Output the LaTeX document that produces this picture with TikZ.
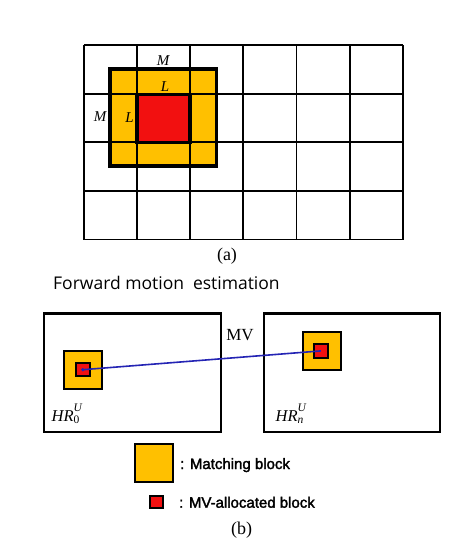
\documentclass[tikz,border=0pt]{standalone}
\usepackage{fontspec}
\setmainfont{Liberation Serif}
\newfontfamily\sansf{Open Sans}
\newfontfamily\legf[FakeBold=2]{Liberation Sans}
\definecolor{mblock}{HTML}{FFC000}
\definecolor{mvred}{HTML}{F21010}
\definecolor{mvblue}{HTML}{2424B4}
\newcommand{\hrlab}[1]{\textit{HR}\makebox[0pt][l]{\raisebox{0.55em}{\fontsize{11.5}{12}\selectfont\textit{U}}}\raisebox{-0.15em}{\fontsize{11.5}{12}\selectfont #1}}
\tikzset{
  gridline/.style={line width=1.8pt, black},
  bigblock/.style={draw=black, line width=3.2pt},
  frame/.style={draw=black, line width=2.2pt},
  mblk/.style={draw=black, fill=mblock, line width=2pt, inner sep=0pt, minimum width=38pt, minimum height=38pt},
  mvblk/.style={draw=black, fill=mvred, line width=2pt, inner sep=0pt, minimum width=13.5pt, minimum height=13.5pt},
  lab/.style={font=\fontsize{15}{16}\selectfont\itshape, inner sep=0pt},
  legtext/.style={font=\legf\fontsize{15}{16}\selectfont, anchor=base west, inner sep=0pt},
  hrtext/.style={font=\fontsize{16.5}{18}\selectfont, anchor=base west, inner sep=0pt}
}
\begin{document}
\begin{tikzpicture}[x=1pt,y=-1pt]
\useasboundingbox (0,0) rectangle (458,550);
\fill[white] (0,0) rectangle (458,550);
% (a)
\fill[mblock] (110,69) rectangle (216.7,166);
\foreach \i in {0,...,6} \draw[gridline] (84+53.12*\i,45) -- (84+53.12*\i,239.5);
\foreach \j in {0,...,4} \draw[gridline] (84,45+48.62*\j) -- (402.7,45+48.62*\j);
\draw[bigblock] (110,69) rectangle (216.7,166);
\filldraw[bigblock, fill=mvred] (136.9,94.3) rectangle (190,142.3);
\node[lab] (mtop) at (163,60.3) {M};
\node[lab] (ltop) at (165,86.2) {L};
\node[lab] (mleft) at (100,116.7) {M};
\node[lab] (lleft) at (129.5,118) {L};
\node[font=\fontsize{18}{20}\selectfont, inner sep=0pt] (capa) at (227,256) {(a)};
% (b)
\node[font=\sansf\fontsize{17.5}{19}\selectfont, anchor=base west, inner sep=0pt] (title) at (53,289.3) {Forward motion\hspace{0.25em} estimation};
\draw[frame] (44,313.5) rectangle (220.7,432);
\draw[frame] (264.3,313.5) rectangle (440,432);
\node[mblk] (m0) at (82.8,369.8) {};
\node[mvblk] (r0) at (82.8,369.7) {};
\node[mblk] (m1) at (321.5,350.8) {};
\node[mvblk] (r1) at (320.9,350.9) {};
\draw[mvblue, line width=1.6pt] (r0.center) -- (r1.center);
\fill[mvblue] (r0.center) circle (1.8pt);
\node[font=\fontsize{17}{18}\selectfont, inner sep=0pt, anchor=base] (mv) at (240,340) {MV};
\node[hrtext] (hr0) at (51.5,421) {\hrlab{0}};
\node[hrtext] (hrn) at (275.5,421) {\hrlab{\textit{n}}};
% legend
\node[mblk, minimum width=38.5pt, minimum height=37.5pt] (legm) at (154,463) {};
\node[mvblk, minimum width=13pt, minimum height=12.5pt] (legr) at (156.3,502) {};
\node[legtext] (legmt) at (180,469) {: Matching block};
\node[legtext] (legrt) at (179,507.7) {: MV-allocated block};
\node[font=\fontsize{18}{20}\selectfont, inner sep=0pt] (capb) at (241.5,530) {(b)};
\end{tikzpicture}
\end{document}
